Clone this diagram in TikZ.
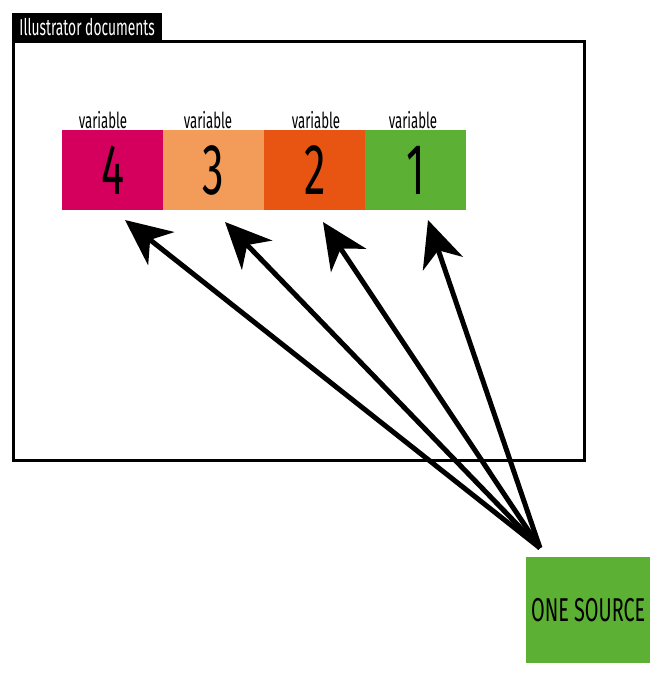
\documentclass[tikz,border=0pt]{standalone}
\usepackage{fontspec}
\setmainfont{Fira Sans}[FakeStretch=0.6]
\usetikzlibrary{arrows.meta}
\definecolor{cmag}{HTML}{D5005E}
\definecolor{clor}{HTML}{F39C5A}
\definecolor{cor}{HTML}{E85411}
\definecolor{cgr}{HTML}{5CB033}
\tikzset{
  varbox/.style={minimum width=101pt, minimum height=80pt, inner sep=0pt, font=\fontsize{72}{72}\selectfont, anchor=north west},
  varlabel/.style={font=\fontsize{22}{22}\selectfont, anchor=base, inner sep=0pt},
  bigarrow/.style={line width=5pt, -{Stealth[length=46pt, width=42pt, inset=14pt]}}
}
\begin{document}
\begin{tikzpicture}[x=1pt,y=-1pt]
\useasboundingbox (0,0) rectangle (667,680);
% tab
\node[fill=black, text=white, anchor=north west, minimum width=150pt, minimum height=27pt, inner sep=0pt, font=\fontsize{23}{23}\selectfont] (tab) at (12,13) {Illustrator documents};
% frame
\node[draw=black, line width=3pt, anchor=north west, minimum width=571pt, minimum height=419pt, inner sep=0pt] (frame) at (12,40) {};
% boxes
\node[varbox, fill=cmag] (b4) at (62,130) {4};
\node[varbox, fill=clor] (b3) at (163,130) {3};
\node[varbox, fill=cor] (b2) at (264,130) {2};
\node[varbox, fill=cgr] (b1) at (365,130) {1};
\node[varlabel] (l4) at (103,128) {variable};
\node[varlabel] (l3) at (208,128) {variable};
\node[varlabel] (l2) at (316,128) {variable};
\node[varlabel] (l1) at (413,128) {variable};
% source
\node[fill=cgr, anchor=north west, minimum width=124pt, minimum height=106pt, inner sep=0pt, font=\fontsize{33}{33}\selectfont] (src) at (526,557) {ONE SOURCE};
\coordinate (s) at (540,548);
\coordinate (t4) at (125,220);
\coordinate (t3) at (225,222);
\coordinate (t2) at (323,222);
\coordinate (t1) at (428,220);
\draw[bigarrow] (s) -- (t4);
\draw[bigarrow] (s) -- (t3);
\draw[bigarrow] (s) -- (t2);
\draw[bigarrow] (s) -- (t1);
\end{tikzpicture}
\end{document}
